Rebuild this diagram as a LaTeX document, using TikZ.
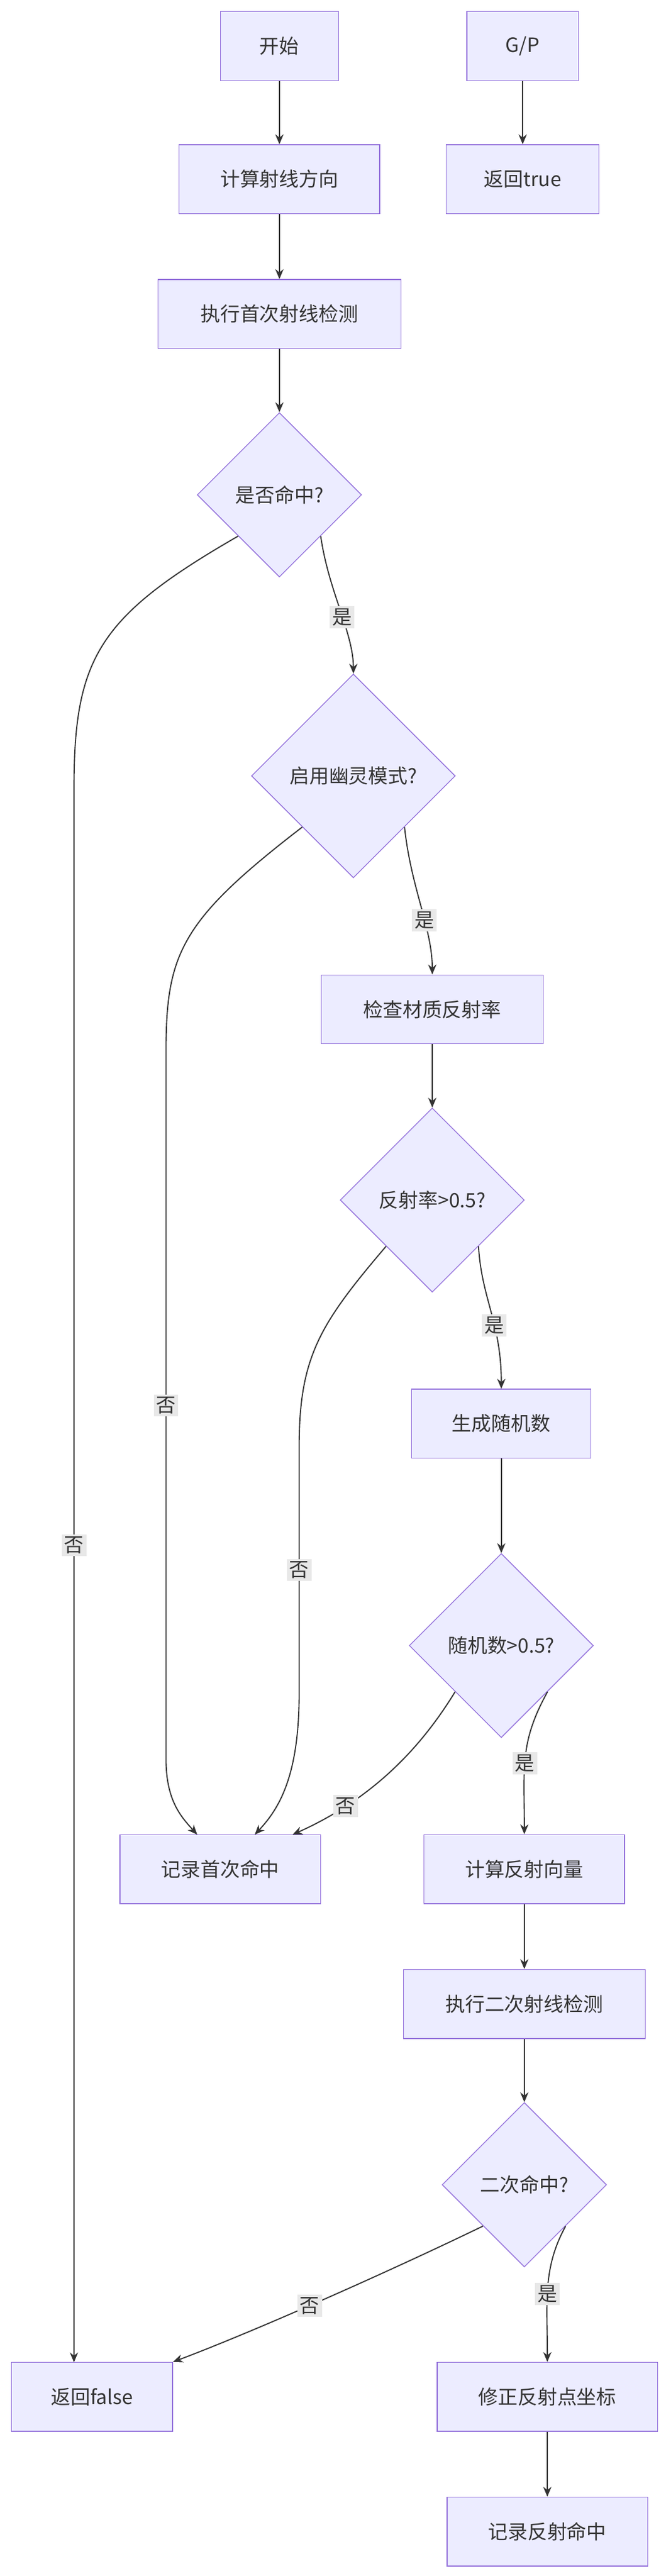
\documentclass[tikz,border=0pt]{standalone}
\usepackage{fontspec}
\setmainfont{Noto Sans CJK SC}
\usetikzlibrary{shapes.geometric,arrows.meta}
\definecolor{nf}{HTML}{ECECFF}
\definecolor{ns}{HTML}{9370DB}
\definecolor{ed}{HTML}{333333}
\definecolor{lb}{HTML}{E8E8E8}
\begin{document}
\begin{tikzpicture}[x=1pt,y=-1pt,
 box/.style={draw=ns,fill=nf,line width=0.5pt,minimum height=42pt,inner sep=0pt,font=\fontsize{12}{14}\selectfont,text=ed},
 dia/.style={draw=ns,fill=nf,line width=0.5pt,diamond,inner sep=0pt,font=\fontsize{12}{14}\selectfont,text=ed},
 ar/.style={draw=ed,line width=0.7pt,-{Stealth[length=6pt,width=5pt]}},
 lab/.style={fill=lb,inner sep=1.5pt,font=\fontsize{12}{14}\selectfont,text=ed}]
\useasboundingbox (0,0) rectangle (405,1567);
\node[box,minimum width=72pt] (s) at (170,28) {开始};
\node[box,minimum width=68pt] (gp) at (318,28) {G/P};
\node[box,minimum width=122pt] (a) at (170,109) {计算射线方向};
\node[box,minimum width=93pt] (rt) at (318,109) {返回true};
\node[box,minimum width=148pt] (b) at (170,191) {执行首次射线检测};
\node[dia,minimum width=100pt,minimum height=100pt] (d1) at (170,301) {是否命中?};
\node[dia,minimum width=124pt,minimum height=124pt] (d2) at (215,472) {启用幽灵模式?};
\node[box,minimum width=135pt] (c) at (263,614) {检查材质反射率};
\node[dia,minimum width=112pt,minimum height=112pt] (d3) at (263,730) {反射率>0.5?};
\node[box,minimum width=109pt] (e) at (305,866) {生成随机数};
\node[dia,minimum width=112pt,minimum height=112pt] (d4) at (305,1001) {随机数>0.5?};
\node[box,minimum width=122pt] (f) at (134,1137) {记录首次命中};
\node[box,minimum width=122pt] (g) at (319,1137) {计算反射向量};
\node[box,minimum width=147pt] (h) at (319,1219) {执行二次射线检测};
\node[dia,minimum width=100pt,minimum height=100pt] (d5) at (319,1329) {二次命中?};
\node[box,minimum width=98pt] (rf) at (56,1458) {返回false};
\node[box,minimum width=134pt] (k) at (333,1458) {修正反射点坐标};
\node[box,minimum width=122pt] (m) at (333,1540) {记录反射命中};
\coordinate (rfp) at (45,1437);
\coordinate (fa) at (120,1116);
\coordinate (fb) at (155,1116);
\coordinate (fc) at (178,1116);
\draw[ar] (s) -- (a);
\draw[ar] (a) -- (b);
\draw[ar] (b) -- (d1);
\draw[ar] (gp) -- (rt);
% yes edges
\draw[ar] (d1.south east) .. controls (200,360) and (215,385) .. node[lab,pos=0.55]{是} (d2.north);
\draw[ar] (d2.south east) .. controls (250,540) and (263,565) .. node[lab,pos=0.6]{是} (c.north);
\draw[ar] (c) -- (d3);
\draw[ar] (d3.south east) .. controls (293,790) and (305,805) .. node[lab,pos=0.6]{是} (e.north);
\draw[ar] (e) -- (d4);
\draw[ar] (d4.south east) .. controls (316,1060) and (319,1075) .. node[lab,pos=0.55]{是} (g.north);
\draw[ar] (g) -- (h);
\draw[ar] (h) -- (d5);
\draw[ar] (d5.south east) .. controls (330,1380) and (333,1400) .. node[lab,pos=0.55]{是} (k.north);
\draw[ar] (k) -- (m);
% no edges
\draw[ar] (d1.south west) .. controls (60,375) and (45,400) .. (45,480) -- node[lab]{否} (45,1400) .. controls (45,1420) and (45,1430) .. (rfp);
\draw[ar] (d2.south west) .. controls (110,560) and (101,580) .. (101,640) -- node[lab]{否} (101,1070) .. controls (101,1095) and (110,1105) .. (fa);
\draw[ar] (d3.south west) .. controls (195,805) and (182,825) .. (182,880) -- node[lab]{否} (182,1030) .. controls (182,1080) and (170,1100) .. (fb);
\draw[ar] (d4.south west) .. controls (255,1065) and (225,1095) .. node[lab,pos=0.75]{否} (fc);
\draw[ar] (d5.south west) .. controls (230,1385) and (150,1420) .. node[lab,pos=0.52]{否} (rf.north east);
\end{tikzpicture}
\end{document}
